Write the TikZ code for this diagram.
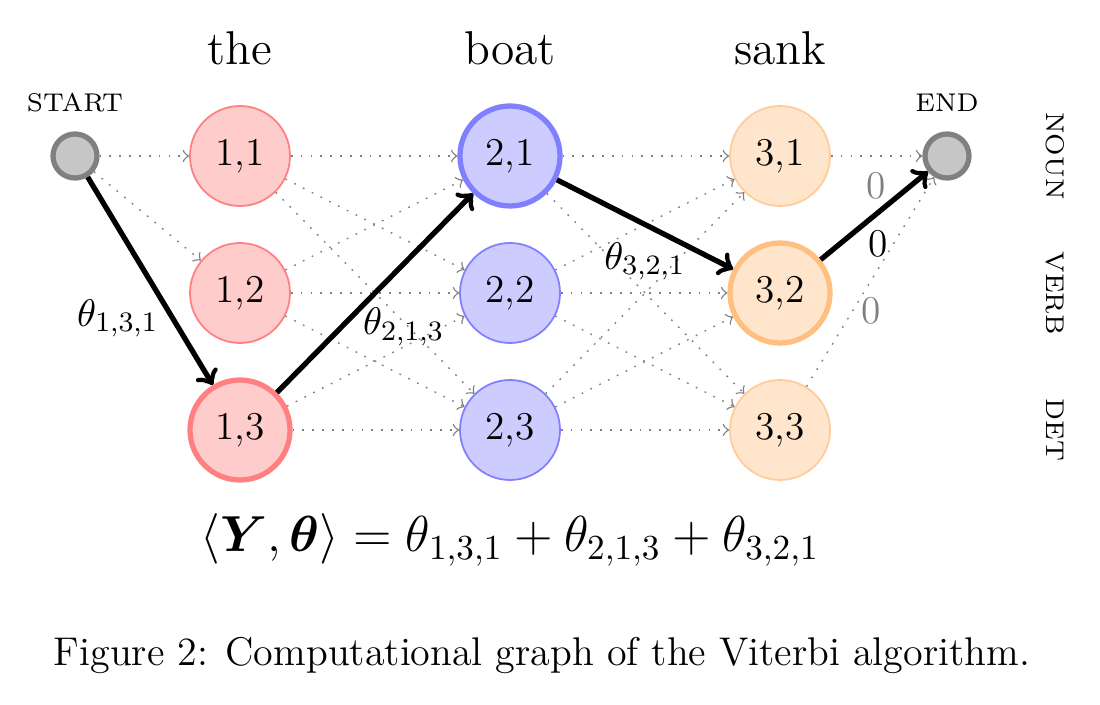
\documentclass[tikz,border=0pt]{standalone}
\usepackage{amsmath}

\begin{document}
\begin{tikzpicture}[>=to]
\useasboundingbox (0,0) rectangle (11,7.04);
\tikzset{VertexStyle/.style = {shape=circle, minimum size=1cm, inner sep=0pt,
                               line width=0.5pt, font=\fontsize{11.2}{13}\selectfont}
  }
\tikzset{EndStyle/.style = {shape=circle, minimum size=0.44cm, inner sep=0pt,
                            draw=gray, fill=gray!45, line width=1.5pt}}
\tikzset{WordStyle/.style = {font=\fontsize{13.5}{16}\selectfont}}
\tikzset{TagStyle/.style = {font=\fontsize{7.3}{9}\selectfont}}

\node[EndStyle] (s) at (0.75,5.48) {};
\node[EndStyle] (e) at (9.47,5.48) {};
\node[TagStyle] (ls) at (0.75,6.01) {START};
\node[TagStyle] (le) at (9.47,6.01) {END};
%-----------------------------
\node[VertexStyle, draw=red!50, fill=red!20] (a1) at (2.40,5.48) {1,1};
\node[VertexStyle, draw=red!50, fill=red!20] (a2) at (2.40,4.11) {1,2};
\node[VertexStyle, draw=red!50, fill=red!20, line width=1.5pt] (a3) at (2.40,2.74) {1,3};
%-----------------------------
\node[VertexStyle, draw=blue!50, fill=blue!20, line width=1.5pt] (b1) at (5.10,5.48) {2,1};
\node[VertexStyle, draw=blue!50, fill=blue!20] (b2) at (5.10,4.11) {2,2};
\node[VertexStyle, draw=blue!50, fill=blue!20] (b3) at (5.10,2.74) {2,3};
%-----------------------------
\node[VertexStyle, draw=orange!40, fill=orange!20] (c1) at (7.80,5.48) {3,1};
\node[VertexStyle, draw=orange!50, fill=orange!20, line width=1.5pt] (c2) at (7.80,4.11) {3,2};
\node[VertexStyle, draw=orange!40, fill=orange!20] (c3) at (7.80,2.74) {3,3};

\node[WordStyle] (wa) at (2.40,6.56) {the};
\node[WordStyle] (wb) at (5.10,6.56) {boat};
\node[WordStyle] (wc) at (7.80,6.56) {sank};

\node[TagStyle, rotate=-90] (tn) at (10.55,5.48) {NOUN};
\node[TagStyle, rotate=-90] (tv) at (10.55,4.11) {VERB};
\node[TagStyle, rotate=-90] (td) at (10.55,2.74) {DET};

\tikzset{EdgeStyle/.style={->, gray, line width=0.4pt, dash pattern=on 0.5pt off 2.3pt}}

\draw[EdgeStyle] (s) -- (a1);
\draw[EdgeStyle] (s) -- (a2);
\draw[EdgeStyle] (s) -- (a3);
%-----------------------------
\draw[EdgeStyle] (a1) -- (b1);
\draw[EdgeStyle] (a1) -- (b2);
\draw[EdgeStyle] (a1) -- (b3);
\draw[EdgeStyle] (a2) -- (b1);
\draw[EdgeStyle] (a2) -- (b2);
\draw[EdgeStyle] (a2) -- (b3);
\draw[EdgeStyle] (a3) -- (b1);
\draw[EdgeStyle] (a3) -- (b2);
\draw[EdgeStyle] (a3) -- (b3);
%-----------------------------
\draw[EdgeStyle] (b1) -- (c1);
\draw[EdgeStyle] (b1) -- (c2);
\draw[EdgeStyle] (b1) -- (c3);
\draw[EdgeStyle] (b2) -- (c1);
\draw[EdgeStyle] (b2) -- (c2);
\draw[EdgeStyle] (b2) -- (c3);
\draw[EdgeStyle] (b3) -- (c1);
\draw[EdgeStyle] (b3) -- (c2);
\draw[EdgeStyle] (b3) -- (c3);
%-----------------------------
\tikzset{LabelStyle/.style={font=\fontsize{11.2}{13}\selectfont}}
\draw[EdgeStyle] (c1) -- node[LabelStyle, below=1pt, gray] {0} (e);
\draw[EdgeStyle] (c2) -- (e);
\draw[EdgeStyle] (c3) -- node[LabelStyle, pos=.36, right=-1pt, gray] {0} (e);

\tikzset{PathStyle/.style={->, black, line width=1.5pt}}

\draw[PathStyle] (s) -- node[LabelStyle, pos=.68, left=0pt] {$\theta_{1,3,1}$} (a3);
\draw[PathStyle] (a3) -- node[LabelStyle, pos=.33, right=2pt] {$\theta_{2,1,3}$} (b1);
\draw[PathStyle] (b1) -- node[LabelStyle, midway, below=1pt] {$\theta_{3,2,1}$} (c2);
\draw[PathStyle] (c2) -- node[LabelStyle, pos=.18, right=4pt] {0} (e);

\node[font=\fontsize{13.7}{16}\selectfont] (eq) at (5.10,1.64)
  {$\langle \boldsymbol{Y},\boldsymbol{\theta}\rangle = \theta_{1,3,1}+\theta_{2,1,3}+\theta_{3,2,1}$};
\node[font=\fontsize{11.4}{13}\selectfont] (cap) at (5.42,0.49)
  {Figure 2: Computational graph of the Viterbi algorithm.};

\end{tikzpicture}
\end{document}
